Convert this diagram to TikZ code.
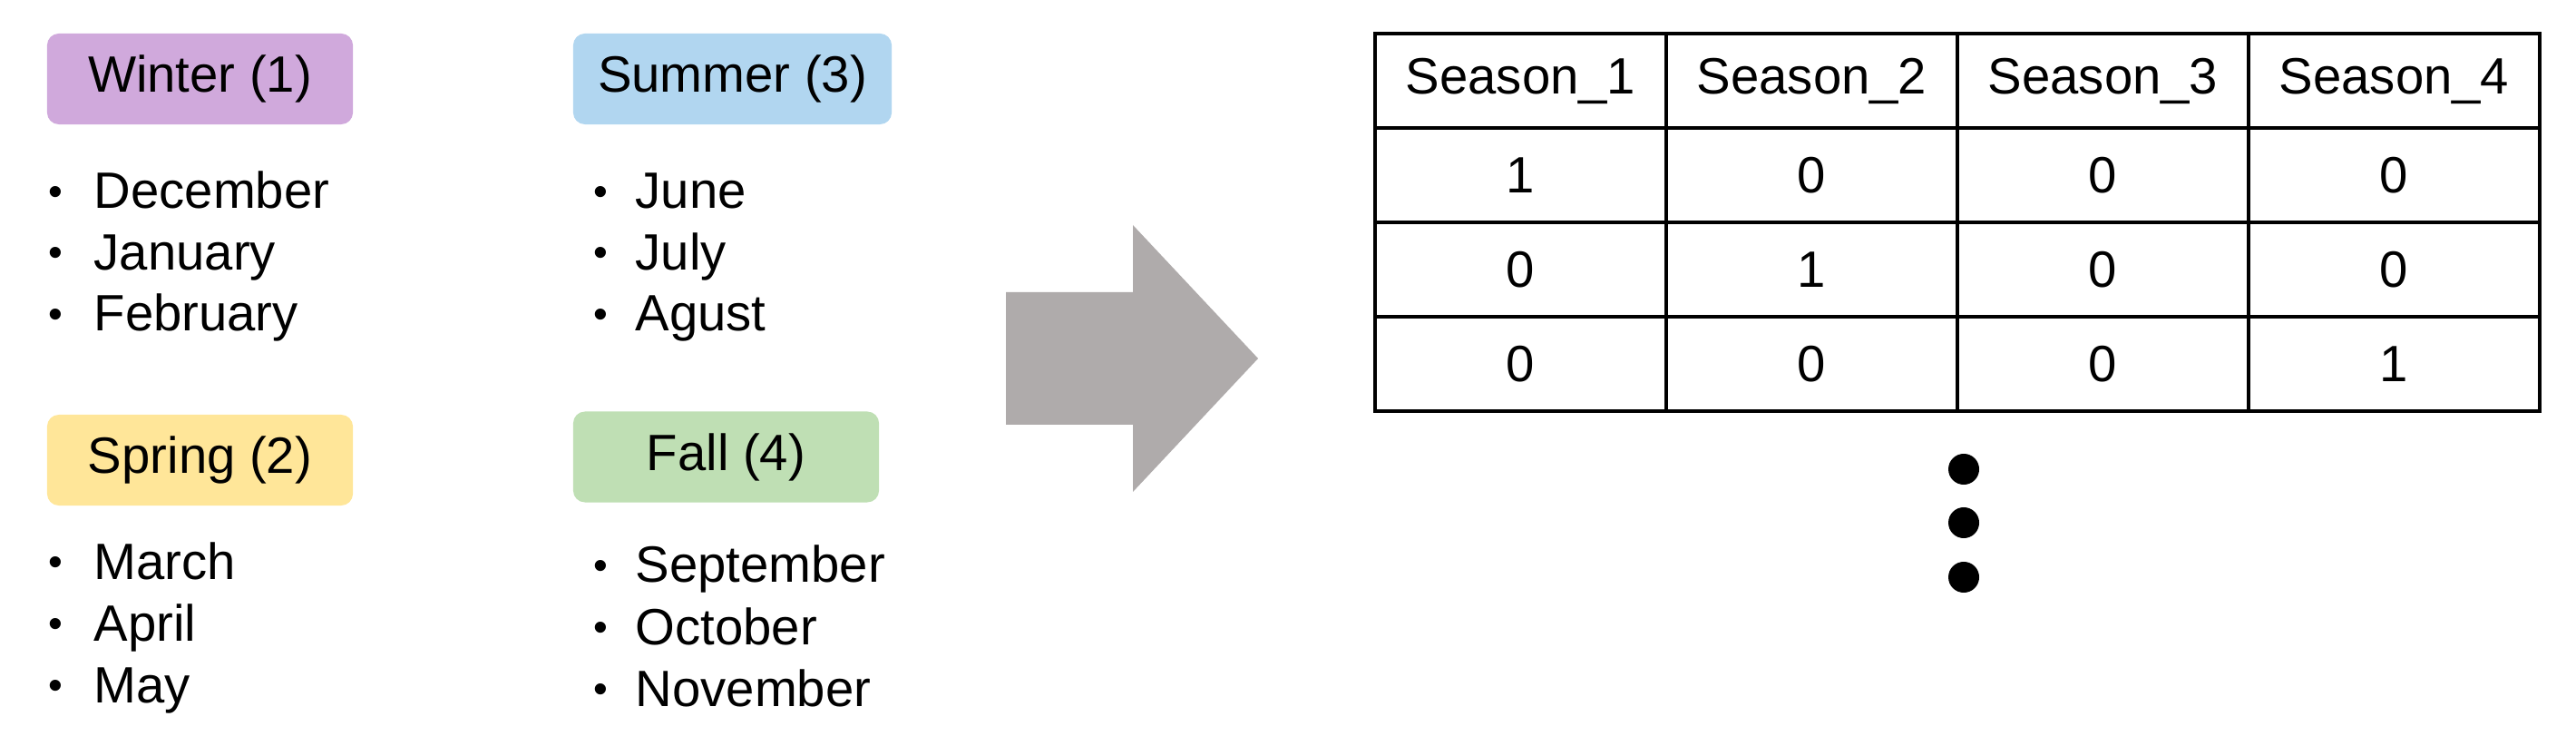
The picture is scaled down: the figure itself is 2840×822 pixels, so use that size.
\documentclass[tikz,border=0pt]{standalone}
\usepackage{fontspec}
\setmainfont{Liberation Sans}
\usetikzlibrary{calc}

\definecolor{winter}{HTML}{D0A9DC}
\definecolor{summer}{HTML}{B1D6F0}
\definecolor{spring}{HTML}{FFE699}
\definecolor{fall}{HTML}{BFDFB4}
\definecolor{arrowgray}{HTML}{AFABAB}

\newcommand{\dotitem}[1]{\makebox[#1][l]{\hspace{0.6pt}\raisebox{1.1pt}{\scalebox{0.8}{\textbullet}}}}

\begin{document}
\begin{tikzpicture}[x=0.01cm, y=-0.01cm,
    every node/.style={font=\fontsize{16}{19}\selectfont},
    season/.style={rounded corners=0.13cm, minimum height=1cm, inner sep=0pt},
    month/.style={anchor=base west, inner sep=0pt},
    cell/.style={draw, line width=1pt, minimum width=3.21cm, minimum height=1.04cm, inner sep=0pt}]

\useasboundingbox (0,0) rectangle (2840,822);

% season boxes
\node[season, fill=winter, minimum width=3.37cm] (winter) at (220.5,87) {Winter (1)};
\node[season, fill=summer, minimum width=3.51cm] (summer) at (807.5,87) {Summer (3)};
\node[season, fill=spring, minimum width=3.37cm] (spring) at (220.5,507) {Spring (2)};
\node[season, fill=fall, minimum width=3.37cm] (fall) at (800.5,503.5) {Fall (4)};

% months
\foreach \m [count=\i] in {December, January, February}
    \node[month] (w\i) at (51,{230+67.5*(\i-1)}) {\dotitem{0.52cm}\m};
\foreach \m [count=\i] in {June, July, Agust}
    \node[month] (s\i) at (652,{230+67.5*(\i-1)}) {\dotitem{0.48cm}\m};
\foreach \m [count=\i] in {March, April, May}
    \node[month] (p\i) at (51,{638+68*(\i-1)}) {\dotitem{0.52cm}\m};
\foreach \m [count=\i] in {September, October, November}
    \node[month] (f\i) at (652,{642+68*(\i-1)}) {\dotitem{0.48cm}\m};

% big arrow
\fill[arrowgray] (1109,322) -- (1249,322) -- (1249,248) -- (1387,395)
    -- (1249,542) -- (1249,468) -- (1109,468) -- cycle;

% one-hot table
\foreach \j in {1,...,4}
    \node[cell] (h\j) at ({1516+321*(\j-0.5)},89) {Season\_\j};
\foreach \row [count=\r] in {{1,0,0,0},{0,1,0,0},{0,0,0,1}}
    \foreach \v [count=\j] in \row
        \node[cell] (c\r\j) at ({1516+321*(\j-0.5)},{89+104*\r}) {\v};

% more rows
\foreach \y in {517,576,636}
    \fill (2165,\y) circle (0.17cm);
\end{tikzpicture}
\end{document}
